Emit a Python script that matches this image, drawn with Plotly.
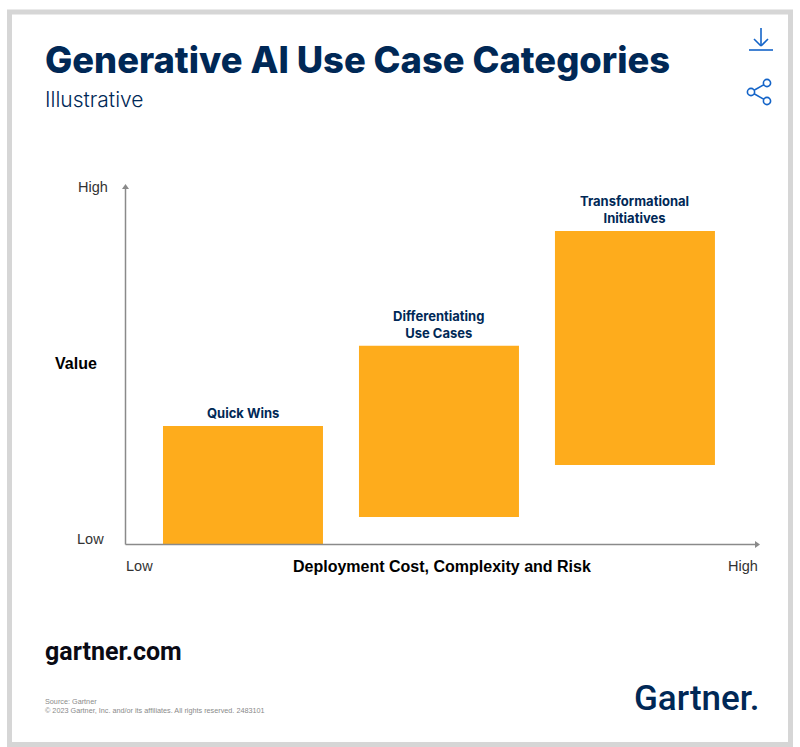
import plotly.graph_objects as go

# values, 0-100 scale on both sides of the chart
categories = ["Quick Wins", "Differentiating<br>Use Cases", "Transformational<br>Initiatives"]
bar_tops = [32.9, 55.2, 87.2]
bar_bases = [0, 7.5, 22]
heights = [t - b for t, b in zip(bar_tops, bar_bases)]

NAVY = "#002856"
ORANGE = "#FEAC1C"
AXIS = "#8a8a8a"
BLUE = "#1464c8"
BORDER = "#d6d6d6"

# plot area in page pixels
L, R, T, B = 125, 760, 185, 544


def px(x):
    return (x - L) / (R - L)


def py(y):
    return (B - y) / (B - T)


def txt(x, y, s, size, color="#333333", family="Liberation Sans", weight=400, xanchor="left"):
    return dict(text=s, x=px(x), y=py(y), xref="paper", yref="paper", showarrow=False,
                xanchor=xanchor, yanchor="middle", align="left",
                font=dict(family=family, size=size, color=color, weight=weight))


def line(x0, y0, x1, y1, color, width):
    return dict(type="line", xref="paper", yref="paper", x0=px(x0), y0=py(y0), x1=px(x1), y1=py(y1),
                line=dict(color=color, width=width), layer="above")


def circle(cx, cy, r, color, width):
    return dict(type="circle", xref="paper", yref="paper", x0=px(cx - r), x1=px(cx + r),
                y0=py(cy + r), y1=py(cy - r), line=dict(color=color, width=width),
                fillcolor="white", layer="above")


def triangle(points, color):
    path = "M" + " L".join(f"{px(a)},{py(b)}" for a, b in points) + " Z"
    return dict(type="path", xref="paper", yref="paper", path=path, fillcolor=color,
                line=dict(width=0), layer="above")


fig = go.Figure()
fig.add_trace(go.Bar(x=categories, y=heights, base=bar_bases, marker=dict(color=ORANGE, line=dict(width=0)),
                     hoverinfo="skip", showlegend=False))

annotations = [
    txt(42.5, 60, "Generative AI Use Case Categories", 36.3, NAVY, "Inter", 800),
    txt(43, 99, "Illustrative", 21, NAVY, "Inter", 300),
    txt(110, 187, "High", 14.5, xanchor="right"),
    txt(106, 539, "Low", 14.5, xanchor="right"),
    txt(53, 363, "Value", 16, "#000000", "Liberation Sans", 700),
    txt(124, 566, "Low", 14.5),
    txt(760, 566, "High", 14.5, xanchor="right"),
    txt(441.5, 566, "Deployment Cost, Complexity and Risk", 16, "#000000", "Liberation Sans", 700, "center"),
    txt(43, 651, "gartner.com", 25, "#0a0a14", "Roboto", 700),
    txt(43, 701, "Source: Gartner", 7.25, "#8a8a8a"),
    txt(43, 710, "© 2023 Gartner, Inc. and/or its affiliates. All rights reserved. 2483101", 7.25, "#8a8a8a"),
    txt(762, 698, "Gartner.", 35, NAVY, "Roboto", 500, "right"),
]
# bar labels sit on the top of each bar
for c, t in zip(categories, bar_tops):
    annotations.append(dict(text=c, x=c, y=t, xref="x", yref="y", yanchor="bottom", showarrow=False, yshift=3,
                            font=dict(family="Inter", size=13, color=NAVY, weight=700)))

shapes = [
    dict(type="rect", xref="paper", yref="paper", x0=px(9.5), x1=px(790.5), y0=py(744.5), y1=py(12),
         line=dict(color=BORDER, width=5), fillcolor="rgba(0,0,0,0)", layer="below"),
    line(125.5, 544.5, 755, 544.5, AXIS, 1.5),
    line(125.5, 544.5, 125.5, 189, AXIS, 1.5),
    triangle([(760, 544.5), (755, 541), (755, 548)], AXIS),
    triangle([(125.5, 184), (122, 189), (129, 189)], AXIS),
    # download icon
    line(761, 28, 761, 46, BLUE, 1.6),
    line(754, 39, 761, 46, BLUE, 1.6),
    line(768, 39, 761, 46, BLUE, 1.6),
    line(749, 50, 773, 50, BLUE, 1.6),
    # share icon
    line(751, 92, 767, 83, BLUE, 1.6),
    line(751, 92, 767, 101, BLUE, 1.6),
    circle(751, 92, 3.6, BLUE, 1.6),
    circle(767, 83, 3.6, BLUE, 1.6),
    circle(767, 101, 3.6, BLUE, 1.6),
]

fig.update_layout(
    width=800, height=747, autosize=False,
    margin=dict(l=L, r=800 - R, t=T, b=747 - B, pad=0),
    paper_bgcolor="white", plot_bgcolor="white",
    bargap=36 / 196,
    annotations=annotations, shapes=shapes,
)
fig.update_xaxes(range=[-0.602, 2.638], showticklabels=False, ticks="", showgrid=False, zeroline=False, showline=False)
fig.update_yaxes(range=[0, 100], showticklabels=False, ticks="", showgrid=False, zeroline=False, showline=False)

fig.write_html("out.html", config=dict(displayModeBar=False), post_script="document.body.style.margin='0';")
